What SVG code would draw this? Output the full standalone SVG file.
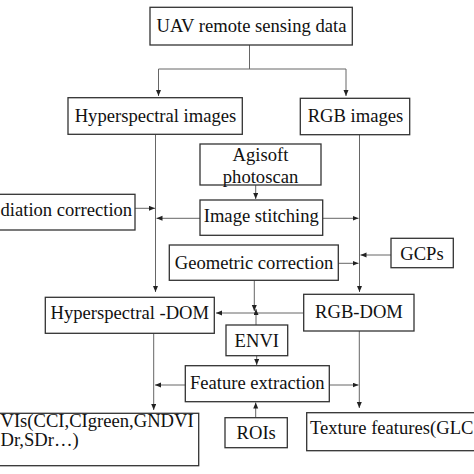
<svg xmlns="http://www.w3.org/2000/svg" width="474" height="474" viewBox="0 0 474 474">
<defs>
<marker id="arr" markerUnits="userSpaceOnUse" markerWidth="7" markerHeight="6" refX="6" refY="2.5" orient="auto">
<path d="M0,0 L6,2.5 L0,5 z" fill="#222"/>
</marker>
<style>
.box{fill:#fff;stroke:#333;stroke-width:1.3}
.t{font-family:"Liberation Serif","Times New Roman",serif;font-size:18.6px;fill:#111;text-anchor:middle}
.s{text-anchor:start}
.c{fill:none;stroke:#666;stroke-width:1}
.a{marker-end:url(#arr)}
</style>
</defs>
<rect width="474" height="474" fill="#fff"/>
<g id="connectors">
<path class="c" d="M249.5,45 V69 M158.5,69 H346"/>
<path class="c a" d="M158.5,69 V96"/>
<path class="c a" d="M346,69 V96"/>
<path class="c a" d="M155.5,134.3 V292"/>
<path class="c a" d="M359.5,134.7 V292"/>
<path class="c a" d="M255.7,185 V199"/>
<path class="c a" d="M135,208.3 H155"/>
<path class="c a" d="M200,218.3 H156.5"/>
<path class="c a" d="M322.7,218.3 H358.5"/>
<path class="c a" d="M338.3,263.3 H358.5"/>
<path class="c a" d="M391,255 H360.5"/>
<path class="c a" d="M254.3,280.3 V311"/>
<path class="c a" d="M303.7,313 H216"/>
<path class="c a" d="M256,325 V309"/>
<path class="c a" d="M256.7,355.7 V365"/>
<path class="c a" d="M185.3,385 H155"/>
<path class="c a" d="M329.3,385 H358.5"/>
<path class="c a" d="M153.7,333.3 V410"/>
<path class="c a" d="M359.3,331 V408"/>
<path class="c a" d="M255.7,417.7 V402.5"/>
</g>
<g id="uav"><rect class="box" x="150" y="7.3" width="202.3" height="37.7"/><text class="t" x="251.5" y="32">UAV remote sensing data</text></g>
<g id="hyper-images"><rect class="box" x="68" y="97.7" width="174.3" height="36.6"/><text class="t" x="155.5" y="122">Hyperspectral images</text></g>
<g id="rgb-images"><rect class="box" x="300.3" y="98.3" width="109.4" height="36.4"/><text class="t" x="355.5" y="122">RGB images</text></g>
<g id="agisoft"><rect class="box" x="200" y="144" width="121" height="41"/><text class="t" x="260.5" y="161">Agisoft</text><text class="t" x="260.5" y="182.5">photoscan</text></g>
<g id="stitching"><rect class="box" x="200" y="200" width="122.7" height="35.3"/><text class="t" x="261.3" y="222">Image stitching</text></g>
<g id="radiation"><rect class="box" x="-40" y="194.3" width="175" height="35.7"/><text class="t s" x="0.5" y="215.5">diation correction</text></g>
<g id="geometric"><rect class="box" x="169.3" y="245" width="169" height="35.3"/><text class="t" x="254" y="268.5">Geometric correction</text></g>
<g id="gcps"><rect class="box" x="391" y="238.3" width="62.3" height="29.4"/><text class="t" x="422" y="259.5">GCPs</text></g>
<g id="hyper-dom"><rect class="box" x="45.3" y="297.3" width="169" height="36"/><text class="t" x="129.8" y="318.5">Hyperspectral -DOM</text></g>
<g id="rgb-dom"><rect class="box" x="303.7" y="294.3" width="110.3" height="36.7"/><text class="t" x="359" y="318.3">RGB-DOM</text></g>
<g id="envi"><rect class="box" x="226" y="325" width="61.7" height="30.7"/><text class="t" x="256.8" y="347.3">ENVI</text></g>
<g id="feature"><rect class="box" x="185.3" y="365.7" width="144" height="36"/><text class="t" x="257.3" y="389">Feature extraction</text></g>
<g id="rois"><rect class="box" x="225" y="417.7" width="62.3" height="30"/><text class="t" x="256.2" y="439">ROIs</text></g>
<g id="vis"><rect class="box" x="-40" y="413.3" width="238.7" height="52.4"/><text class="t s" x="0.5" y="426.5">VIs(CCI,CIgreen,GNDVI</text><text class="t s" x="0.5" y="445.5">Dr,SDr…)</text></g>
<g id="texture"><rect class="box" x="306.7" y="412.7" width="200" height="38"/><text class="t s" x="310" y="434">Texture features(GLC</text></g>
</svg>
